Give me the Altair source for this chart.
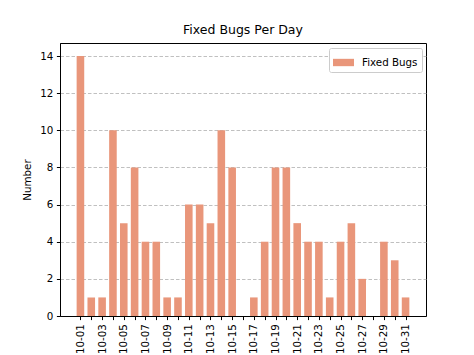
import json
import altair as alt
import pandas as pd

dates = ["10-01", "10-02", "10-03", "10-04", "10-05", "10-06", "10-07", "10-08",
         "10-09", "10-10", "10-11", "10-12", "10-13", "10-14", "10-15", "10-16",
         "10-17", "10-18", "10-19", "10-20", "10-21", "10-22", "10-23", "10-24",
         "10-25", "10-26", "10-27", "10-28", "10-29", "10-30", "10-31"]
fixed = [14, 1, 1, 10, 5, 8, 4, 4, 1, 1, 6, 6, 5, 10, 8, 0,
         1, 4, 8, 8, 5, 4, 4, 1, 4, 5, 2, 0, 4, 3, 1]
series_name = "Fixed Bugs"

df = pd.DataFrame({
    "day": list(range(1, len(dates) + 1)),
    "date": dates,
    "count": fixed,
    "series": [series_name] * len(dates),
})

label_expr = f"datum.value % 2 == 1 ? {json.dumps(dates)}[datum.value - 1] : ''"
FONT = "DejaVu Sans"

chart = alt.Chart(df).transform_calculate(
    x0="datum.day - 0.35", x1="datum.day + 0.35"
).mark_rect(color="#E9967A").encode(
    x=alt.X("x0:Q",
            scale=alt.Scale(domain=[-0.885, 32.885], nice=False, zero=False),
            axis=alt.Axis(values=list(range(1, len(dates) + 1)), labelExpr=label_expr,
                          labelAngle=270, title=None, grid=False,
                          tickSize=3.6, labelPadding=4, tickColor="#000",
                          domainColor="#000", labelColor="#000",
                          labelFont=FONT, labelFontSize=10.3)),
    x2="x1:Q",
    y=alt.Y("count:Q",
            scale=alt.Scale(domain=[0, 14.7], nice=False),
            axis=alt.Axis(values=list(range(0, 15, 2)), title="Number",
                          titleFont=FONT, titleFontSize=10.3, titleFontWeight="normal",
                          titleColor="#000", titlePadding=7,
                          grid=True, gridDash=[3.5, 2], gridColor="#b0b0b0", gridWidth=0.8,
                          tickSize=3.6, labelPadding=3.5, tickColor="#000",
                          domainColor="#000", labelColor="#000",
                          labelFont=FONT, labelFontSize=10.3)),
    y2=alt.datum(0),
    color=alt.Color("series:N", scale=alt.Scale(range=["#E9967A"]),
                    legend=alt.Legend(title=None, orient="none", legendX=269, legendY=5,
                                      symbolType="M-1,-0.35L1,-0.35L1,0.35L-1,0.35Z",
                                      symbolSize=441, symbolStrokeWidth=0,
                                      symbolOpacity=1, symbolFillColor="#E9967A",
                                      labelFont=FONT, labelFontSize=10.3, labelColor="#000",
                                      labelOffset=8, padding=4,
                                      strokeColor="#cccccc", fillColor="white",
                                      cornerRadius=2)),
).properties(
    width=366, height=273,
    title=alt.Title("Fixed Bugs Per Day", font=FONT, fontSize=12.5,
                    fontWeight="normal", color="#000", offset=7),
    autosize=alt.AutoSizeParams(type="none"),
    padding={"left": 60, "top": 43, "right": 48, "bottom": 39},
).configure_view(stroke="#000", strokeWidth=1)

chart.save("out.html", embed_options={"renderer": "svg", "actions": False})
